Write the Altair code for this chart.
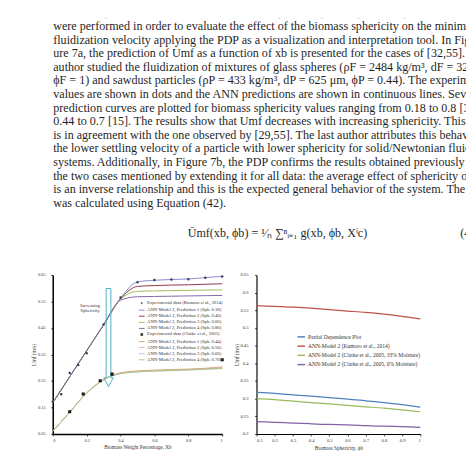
import altair as alt
import pandas as pd

FONT = "Liberation Serif"

# ---------------- page text ----------------
PARA_FIRST = "As explained before, ANN-Model 2 incorporates sphericity as an input, so simulations"
PARA_LINES = [
    "were performed in order to evaluate the effect of the biomass sphericity on the minimum",
    "fluidization velocity applying the PDP as a visualization and interpretation tool. In Fig-",
    "ure 7a, the prediction of Umf as a function of xb is presented for the cases of [32,55]. The last",
    "author studied the fluidization of mixtures of glass spheres (ρF = 2484 kg/m³, dF = 322 μm,",
    "ϕF = 1) and sawdust particles (ρP = 433 kg/m³, dP = 625 μm, ϕP = 0.44). The experimental",
    "values are shown in dots and the ANN predictions are shown in continuous lines. Several",
    "prediction curves are plotted for biomass sphericity values ranging from 0.18 to 0.8 [31] and",
    "0.44 to 0.7 [15]. The results show that Umf decreases with increasing sphericity. This result",
    "is in agreement with the one observed by [29,55]. The last author attributes this behavior to",
    "the lower settling velocity of a particle with lower sphericity for solid/Newtonian fluid",
    "systems. Additionally, in Figure 7b, the PDP confirms the results obtained previously for",
    "the two cases mentioned by extending it for all data: the average effect of sphericity on Umf",
    "is an inverse relationship and this is the expected general behavior of the system. The PDP",
    "was calculated using Equation (42).",
]
EQUATION = "Ūmf(xb, ϕb) = ¹⁄ₙ ∑ⁿᵢ₌₁ g(xb, ϕb, Xⁱc)"
EQ_NUMBER = "(42)"

# ---------------- chart (a) ----------------
A_XTICKS = [0, 0.2, 0.4, 0.6, 0.8, 1.0]
A_YTICKS = [0.05, 0.15, 0.25, 0.35, 0.45, 0.55, 0.65]

A_SERIES = [
    "Experimental data (Kumoro et al., 2014)",
    "ANN-Model 2, Prediction 1 (Sph. 0.18)",
    "ANN-Model 2, Prediction 2 (Sph. 0.40)",
    "ANN-Model 2, Prediction 3 (Sph. 0.60)",
    "ANN-Model 2, Prediction 4 (Sph. 0.80)",
    "Experimental data (Clarke et al., 2005)",
    "ANN-Model 2, Prediction 1 (Sph. 0.44)",
    "ANN-Model 2, Prediction 2 (Sph. 0.50)",
    "ANN-Model 2, Prediction 3 (Sph. 0.60) ",
    "ANN-Model 2, Prediction 4 (Sph. 0.70)",
]
A_COLORS = ["#3b3b4d", "#8287d2", "#8b3040", "#9bbb59", "#8064a2",
            "#111111", "#d4a373", "#e2a9a9", "#c4c4cc", "#a9c87a"]
DOT = "M-0.2,0A0.2,0.2,0,1,1,0.2,0A0.2,0.2,0,1,1,-0.2,0Z"
SQUARE = "M-0.3,-0.3H0.3V0.3H-0.3Z"
A_SHAPES = [DOT, "stroke", "stroke", "stroke", "stroke",
            SQUARE, "stroke", "stroke", "stroke", "stroke"]

# Kumoro et al. 2014 experimental points
KUM_X = [0, 0.05, 0.1, 0.15, 0.2, 0.3, 0.4, 0.5, 0.6, 0.7, 0.8, 0.9, 1.0]
KUM_Y = [0.172, 0.200, 0.280, 0.310, 0.355, 0.463, 0.565, 0.623, 0.631, 0.633, 0.634, 0.640, 0.644]
# Clarke et al. 2005 experimental points
CLA_X = [0.1, 0.18, 0.28, 0.35, 1.0]
CLA_Y = [0.134, 0.201, 0.251, 0.276, 0.330]

# ANN predictions, Kumoro case
K_PX = [0, 0.1, 0.2, 0.3, 0.4, 0.5, 0.6, 0.7, 0.8, 0.9, 1.0]
K_P1 = [0.168, 0.266, 0.364, 0.462, 0.563, 0.624, 0.630, 0.633, 0.635, 0.640, 0.645]
K_P2 = [0.168, 0.266, 0.364, 0.462, 0.560, 0.607, 0.610, 0.612, 0.613, 0.615, 0.617]
K_P3 = [0.168, 0.266, 0.364, 0.462, 0.558, 0.588, 0.590, 0.591, 0.592, 0.593, 0.594]
K_P4 = [0.168, 0.266, 0.364, 0.462, 0.555, 0.568, 0.569, 0.570, 0.571, 0.572, 0.573]

# ANN predictions, Clarke case
C_PX = [0, 0.1, 0.2, 0.3, 0.35, 0.4, 0.5, 0.6, 0.7, 0.8, 0.9, 1.0]
C_P1 = [0.060, 0.133, 0.205, 0.256, 0.272, 0.281, 0.288, 0.291, 0.293, 0.295, 0.298, 0.303]
C_P2 = [0.060, 0.133, 0.205, 0.255, 0.271, 0.279, 0.286, 0.289, 0.291, 0.293, 0.296, 0.300]
C_P3 = [0.060, 0.133, 0.204, 0.254, 0.269, 0.277, 0.284, 0.287, 0.289, 0.291, 0.294, 0.297]
C_P4 = [0.060, 0.132, 0.204, 0.254, 0.270, 0.278, 0.285, 0.288, 0.290, 0.292, 0.295, 0.298]

# "Increasing sphericity" arrow outline (data units of chart a)
ARROW_X = [0.315, 0.343, 0.343, 0.357, 0.329, 0.301, 0.315, 0.315]
ARROW_Y = [0.599, 0.599, 0.262, 0.262, 0.229, 0.262, 0.262, 0.599]
NOTE_X = [0.22]
NOTE_Y = [0.536]
NOTE_TEXT = ["Increasing\nSphericity"]

# ---------------- chart (b) ----------------
B_XTICKS = [0.1, 0.2, 0.3, 0.4, 0.5, 0.6, 0.7, 0.8, 0.9, 1.0]
B_YTICKS = [0.2, 0.25, 0.3, 0.35, 0.4, 0.45, 0.5, 0.55, 0.6, 0.65]
B_SERIES = [
    "Partial Dependence Plot",
    "ANN-Model 2 (Kumoro et al., 2014)",
    "ANN-Model 2 (Clarke et al., 2005, 33% Moisture)",
    "ANN-Model 2 (Clarke et al., 2005, 0% Moisture)",
]
B_COLORS = ["#4f81bd", "#c0504d", "#9bbb59", "#8064a2"]
B_X = [0.1, 0.2, 0.3, 0.4, 0.5, 0.6, 0.7, 0.8, 0.9, 1.0]
B_PDP = [0.318, 0.315, 0.311, 0.307, 0.303, 0.299, 0.294, 0.289, 0.283, 0.276]
B_KUM = [0.563, 0.561, 0.559, 0.556, 0.552, 0.548, 0.544, 0.539, 0.533, 0.526]
B_C33 = [0.300, 0.297, 0.293, 0.289, 0.285, 0.281, 0.277, 0.273, 0.268, 0.263]
B_C0 = [0.235, 0.233, 0.231, 0.229, 0.227, 0.226, 0.224, 0.222, 0.221, 0.219]


def long_table(names, xs, ys_list):
    rows = []
    for name, xv, ys in zip(names, xs, ys_list):
        for x, y in zip(xv, ys):
            rows.append({"series": name, "x": x, "y": y})
    return pd.DataFrame(rows)


# ---------- text block ----------
row_y = alt.Y("row:Q", scale=alt.Scale(domain=[0, 1], range=[-2.6, 11.68], nice=False, zero=False), axis=None)
txt_style = dict(align="left", baseline="alphabetic", font=FONT, fontSize=12.7, color="#1f1f1f", clip=True)

first_df = pd.DataFrame({"row": [0], "text": [PARA_FIRST]})
lines_df = pd.DataFrame({"row": list(range(1, len(PARA_LINES) + 1)), "text": PARA_LINES})
eq_df = pd.DataFrame({"text": [EQUATION]})
eqn_df = pd.DataFrame({"text": [EQ_NUMBER]})

t_first = alt.Chart(first_df).mark_text(**txt_style).encode(x=alt.value(25), y=row_y, text="text:N")
t_lines = alt.Chart(lines_df).mark_text(**txt_style).encode(x=alt.value(0.5), y=row_y, text="text:N")
t_eq = alt.Chart(eq_df).mark_text(align="center", baseline="alphabetic", font=FONT, fontSize=12.7,
                                  color="#1f1f1f", clip=True).encode(x=alt.value(236), y=alt.value(229), text="text:N")
t_eqn = alt.Chart(eqn_df).mark_text(**txt_style).encode(x=alt.value(428), y=alt.value(229), text="text:N")
text_block = alt.layer(t_first, t_lines, t_eq, t_eqn).properties(width=434, height=250)

# ---------- chart (a) ----------
axis_common = dict(grid=False, domainColor="#000000", tickColor="#000000", labelColor="#333333",
                   titleColor="#333333", labelFont=FONT, titleFont=FONT, titleFontWeight="normal")
a_x = alt.X("x:Q", scale=alt.Scale(domain=[0, 1], nice=False, zero=False),
            axis=alt.Axis(values=A_XTICKS, format="~g", title="Biomass Weight Percentage, Xb",
                          labelFontSize=4.6, titleFontSize=5.5, tickSize=2, labelPadding=2,
                          titlePadding=2.5, domainWidth=1.6, tickWidth=0.8, **axis_common))
a_y = alt.Y("y:Q", scale=alt.Scale(domain=[0.05, 0.65], nice=False, zero=False),
            axis=alt.Axis(values=A_YTICKS, format=".2f", title="Umf (m/s)",
                          labelFontSize=4.6, titleFontSize=5.5, tickSize=2, labelPadding=6,
                          titlePadding=1, domainWidth=1.6, tickWidth=0.8, **axis_common))
a_legend = alt.Legend(orient="none", legendX=90, legendY=26, title=None, labelFont=FONT,
                      labelFontSize=4.9, labelColor="#333333", symbolSize=36, symbolStrokeWidth=1,
                      rowPadding=0.4, labelOffset=2, padding=0, labelLimit=300)
a_color = alt.Color("series:N", scale=alt.Scale(domain=A_SERIES, range=A_COLORS), legend=a_legend)
a_shape = alt.Shape("series:N", scale=alt.Scale(domain=A_SERIES, range=A_SHAPES), legend=a_legend)

pred_df = long_table(A_SERIES[1:5] + A_SERIES[6:10],
                     [K_PX] * 4 + [C_PX] * 4,
                     [K_P1, K_P2, K_P3, K_P4, C_P1, C_P2, C_P3, C_P4])
exp_df = long_table([A_SERIES[0], A_SERIES[5]], [KUM_X, CLA_X], [KUM_Y, CLA_Y])
arrow_df = pd.DataFrame({"x": ARROW_X, "y": ARROW_Y, "i": list(range(len(ARROW_X)))})
note_df = pd.DataFrame({"x": NOTE_X, "y": NOTE_Y, "text": NOTE_TEXT})

a_lines = alt.Chart(pred_df).mark_line(strokeWidth=1, interpolate="monotone").encode(
    x=a_x, y=a_y, color=a_color)
a_points = alt.Chart(exp_df).mark_point(filled=False, size=36, strokeWidth=1.4, opacity=1).encode(
    x=a_x, y=a_y, color=a_color, shape=a_shape)
a_arrow = alt.Chart(arrow_df).mark_line(color="#4bacc6", strokeWidth=1).encode(
    x=a_x, y=a_y, order=alt.Order("i:Q"))
a_note = alt.Chart(note_df).mark_text(font=FONT, fontSize=5, color="#333333", lineBreak="\n",
                                      lineHeight=5.5).encode(x=a_x, y=a_y, text="text:N")
chart_a = alt.layer(a_lines, a_arrow, a_points, a_note).properties(width=178, height=167)

# ---------- chart (b) ----------
b_x = alt.X("x:Q", scale=alt.Scale(domain=[0.1, 1], nice=False, zero=False),
            axis=alt.Axis(values=B_XTICKS, format="~g", title="Biomass Sphericity, ϕb",
                          labelFontSize=4.8, titleFontSize=5.5, tickSize=2, labelPadding=2,
                          titlePadding=3, domainWidth=1.2, tickWidth=0.8, **axis_common))
b_y = alt.Y("y:Q", scale=alt.Scale(domain=[0.2, 0.65], nice=False, zero=False),
            axis=alt.Axis(values=B_YTICKS, format="~g", title="Umf (m/s)",
                          labelFontSize=4.8, titleFontSize=5.5, tickSize=2, labelPadding=7,
                          titlePadding=1, domainWidth=1.2, tickWidth=0.8, **axis_common))
b_legend = alt.Legend(orient="none", legendX=42, legendY=60, title=None, labelFont=FONT,
                      labelFontSize=5.8, labelColor="#333333", symbolSize=64, symbolStrokeWidth=1.5,
                      symbolType="stroke", rowPadding=1.7, labelOffset=2, padding=0, labelLimit=300)
b_df = long_table(B_SERIES, [B_X] * 4, [B_PDP, B_KUM, B_C33, B_C0])
chart_b = alt.Chart(b_df).mark_line(strokeWidth=1.3, interpolate="monotone").encode(
    x=b_x, y=b_y,
    color=alt.Color("series:N", scale=alt.Scale(domain=B_SERIES, range=B_COLORS), legend=b_legend),
).properties(width=172, height=167)

charts = alt.hconcat(chart_a, chart_b, spacing=8).resolve_scale(
    color="independent", shape="independent"
).resolve_legend(color="independent", shape="independent")

chart = alt.vconcat(
    text_block,
    charts,
    spacing=16,
).properties(
    padding={"left": 24, "top": 0, "right": 0, "bottom": 0},
    background="#ffffff",
).configure(font=FONT).configure_view(stroke=None)

chart.save("out.html", embed_options={"renderer": "svg", "actions": False})
